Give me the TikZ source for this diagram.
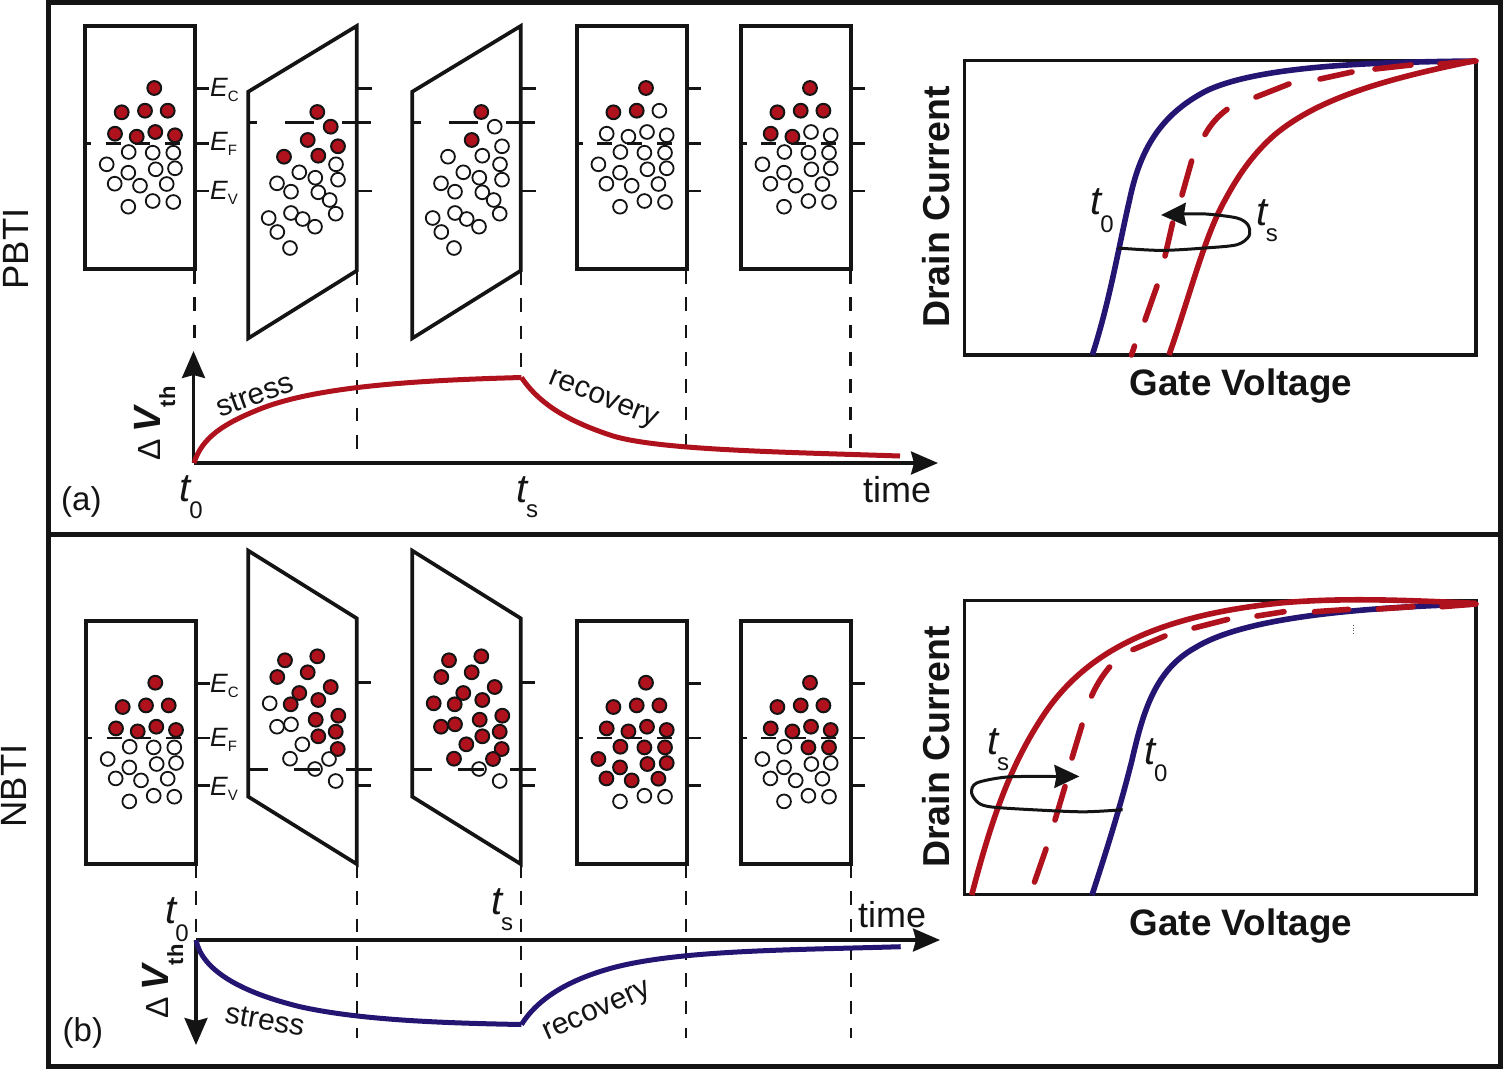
\documentclass[tikz,border=0pt]{standalone}
\usepackage{fontspec}
\setmainfont{Liberation Sans}
\usetikzlibrary{arrows.meta}

\definecolor{ink}{HTML}{141414}
\definecolor{bred}{HTML}{AF121C}
\definecolor{bnavy}{HTML}{241572}

\newcommand{\fsz}[1]{\fontsize{#1}{#1}\selectfont}
\newcommand{\tsub}[2]{{\fsz{40}\itshape t}\hspace{-1.5pt}\raisebox{#2pt}{\fsz{24}#1}}
\newcommand{\esub}[1]{{\fsz{26.5}\itshape E}\raisebox{-5pt}{\fsz{15}#1}}

\tikzset{
	frame/.style={draw=ink,line width=3.7pt,line join=miter},
	level/.style={draw=ink,line width=2.8pt},
	guide/.style={draw=ink,line width=2.7pt,dash pattern=on 13.7pt off 13.6pt},
	full/.style={draw=ink,fill=bred,line width=2pt},
	hole/.style={draw=ink,line width=1.8pt},
	axis/.style={draw=ink,line width=3.2pt,-{Stealth[length=27pt,width=23pt,inset=3pt]}},
	curve/.style={line width=5pt,line join=round},
	tcurve/.style={line width=5.6pt,line join=round},
	loopline/.style={draw=ink,line width=3pt,line join=round},
	lab/.style={inner sep=0pt,anchor=base west,text=ink},
	mid/.style={inner sep=0pt,text=ink}
}

% flat band box: left, top, number of filled states
\newcommand{\flatband}[3]{
	\begin{scope}[shift={(#1,#2)}]
		\draw[frame] (0,0) rectangle (110,243);
		\draw[level] (110,62.7)--(124,62.7);
		\draw[level] (110,165)--(124,165);
		\draw[level,dash pattern=on 15pt off 14.7pt,dash phase=9pt] (0,117.3)--(124,117.3);
		\foreach \i/\x/\y in {1/69.3/62,2/36.7/86.3,3/60/84.7,4/82.7/84.7,5/30/107.7,6/51.7/110.7,7/70.3/106,8/90/109.3,
			9/67.7/126.7,10/88.3/126.7,11/43.7/126,12/21.7/138.3,13/70.7/143.3,14/90/142.3,15/43.3/146.7,
			16/29.7/157.7,17/55/159.7,18/81.7/158,19/43.3/180.7,20/67.7/175,21/88.3/176}{
			\ifnum\i>#3
				\draw[hole] (\x,\y) circle [radius=6.9pt];
			\else
				\draw[full] (\x,\y) circle [radius=6.9pt];
			\fi
		}
	\end{scope}
}
% band bent one way (a): shift, number of filled states
\newcommand{\upband}[2]{
	\begin{scope}[shift={(#1,0)}]
		\draw[frame] (248.3,91.7)--(356.7,26)--(356.7,270.7)--(248.3,338.3)--cycle;
		\draw[level] (356.7,88.7)--(372,88.7);
		\draw[level] (356.7,191)--(372,191);
		\draw[level,dash pattern=on 29pt off 28pt,dash phase=20pt] (248.3,122.7)--(372,122.7);
		\foreach \i/\x/\y in {1/317.3/112,2/307.7/140,3/330.7/126.7,4/338/146.3,5/284/156.7,6/318.3/155.7,7/336/164.3,
			8/299.3/172.3,9/338/179.7,10/315.3/177.7,11/277/183.3,12/291/191.7,13/318.3/192.3,14/329.7/200,
			15/268.7/218,16/291/213,17/302.7/219,18/315/226.7,19/335.7/213.7,20/277.3/232,21/290/248}{
			\ifnum\i>#2
				\draw[hole] (\x,\y) circle [radius=6.9pt];
			\else
				\draw[full] (\x,\y) circle [radius=6.9pt];
			\fi
		}
	\end{scope}
}
% band bent the other way (b)
\newcommand{\downband}[2]{
	\begin{scope}[shift={(#1,0)}]
		\draw[frame] (248.3,550.7)--(356.7,618.3)--(356.7,864)--(248.3,796.7)--cycle;
		\draw[level] (356.7,682.7)--(371,682.7);
		\draw[level] (356.7,785.3)--(371,785.3);
		\draw[level,dash pattern=on 26pt off 26pt,dash phase=6pt] (248.3,769.3)--(372,769.3);
		\foreach \i/\x/\y in {1/285/660.3,2/317.3/656.3,3/277.3/677,4/307.7/672.3,5/330.7/687,6/299.3/693,7/290.7/704.3,
			8/318.3/700,9/338.3/715.7,10/315.7/719.7,11/335.7/731.7,12/318.3/736.3,13/337.7/749,
			14/269.7/703.3,15/277/726.7,16/291/724.3,17/302.3/744.3,18/290/758.7,19/329/759,20/315/769,21/335.7/781}{
			\ifnum\i>#2
				\draw[hole] (\x,\y) circle [radius=6.9pt];
			\else
				\draw[full] (\x,\y) circle [radius=6.9pt];
			\fi
		}
	\end{scope}
}

\begin{document}
\begin{tikzpicture}[x=1pt,y=-1pt]
	\useasboundingbox (0,0) rectangle (1503,1069);

	% outer panels
	\draw[draw=ink,line width=5pt] (48.5,2.5) rectangle (1500.5,534.5);
	\draw[draw=ink,line width=5pt] (48.5,534.5) rectangle (1500.5,1066);
	\node[mid,rotate=90] (PBTI) at (16,249) {\fsz{36.5}PBTI};
	\node[mid,rotate=90] (NBTI) at (14,786) {\fsz{36.5}NBTI};
	\node[lab] (panelA) at (61,510) {\fsz{33}(a)};
	\node[lab] (panelB) at (62.5,1041.5) {\fsz{33}(b)};

	% guides down to the time axes
	\foreach \x/\ya/\yb in {194.5/270/350,357/271/450,521/271/378,686/270/450,850.5/270/450,
		196/864/940,357/864/1038,521/864/1025,686/864/1038,851/864/1038}{
		\draw[guide] (\x,\ya)--(\x,\yb);
	}

	% band pictures
	\flatband{85}{26}{8}
	\upband{0}{6}
	\upband{164}{2}
	\flatband{576.7}{26}{3}
	\flatband{740.7}{26}{6}
	\flatband{86}{620.7}{8}
	\downband{0}{13}
	\downband{164}{19}
	\flatband{576.7}{620.7}{18}
	\flatband{740.7}{620.7}{10}

	\node[lab] (EcA) at (210,96.7) {\esub{C}};
	\node[lab] (EfA) at (210,150.7) {\esub{F}};
	\node[lab] (EvA) at (210,199.3) {\esub{V}};
	\node[lab] (EcB) at (210,692.3) {\esub{C}};
	\node[lab] (EfB) at (210,746) {\esub{F}};
	\node[lab] (EvB) at (210,795) {\esub{V}};

	% time plot (a)
	\coordinate (OA) at (193.5,463);
	\coordinate (YA) at (193.5,351);
	\coordinate (XA) at (938,463);
	\draw[axis] (OA)--(YA);
	\draw[axis] (OA)--(XA);
	\draw[curve,bred] (194,463) .. controls (202,437) and (225,423) .. (260,409) .. controls (320,385) and (430,380) .. (521.5,377.5);
	\draw[curve,bred] (521.5,377.5) .. controls (540,405) and (570,422) .. (613,436) .. controls (660,450) and (780,452) .. (900,456);
	\node[lab,rotate=90] (dVa) at (160,461) {\fsz{32}Δ\hspace{7pt}{\fsz{38}\bfseries\itshape V}\raisebox{-15pt}{\fsz{22}\bfseries th}};
	\node[mid,rotate=20] (stressA) at (255,395) {\fsz{30}stress};
	\node[mid,rotate=-22] (recA) at (602.7,400.7) {\fsz{30}recovery};
	\node[lab] (t0A) at (179.5,501.7) {\tsub{0}{-16.5}};
	\node[lab] (tsA) at (516.2,502) {\tsub{s}{-15}};
	\node[lab] (timeA) at (863,502) {\fsz{36}time};

	% time plot (b)
	\coordinate (OB) at (196,940);
	\coordinate (YB) at (196,1045);
	\coordinate (XB) at (940,940);
	\draw[axis] (OB)--(YB);
	\draw[axis] (OB)--(XB);
	\draw[curve,bnavy] (196,940) .. controls (202,970) and (240,992) .. (300,1006.7) .. controls (360,1020) and (440,1023) .. (521.5,1024.5);
	\draw[curve,bnavy] (521.5,1024.5) .. controls (540,995) and (575,978) .. (613,967.7) .. controls (680,950) and (790,950) .. (900.7,946.7);
	\node[lab,rotate=90] (dVb) at (168,1019) {\fsz{32}Δ\hspace{7pt}{\fsz{38}\bfseries\itshape V}\raisebox{-15pt}{\fsz{22}\bfseries th}};
	\node[mid,rotate=-10] (stressB) at (265,1020) {\fsz{30}stress};
	\node[mid,rotate=24] (recB) at (598,1013) {\fsz{30}recovery};
	\node[lab] (t0B) at (165.5,923) {\tsub{0}{-18}};
	\node[lab] (tsB) at (491.2,914) {\tsub{s}{-16}};
	\node[lab] (timeB) at (858,927) {\fsz{36}time};

	% transfer curves (a)
	\draw[draw=ink,line width=3.8pt] (964.5,60.5) rectangle (1476,355);
	\draw[tcurve,bnavy] (1092.3,355) .. controls (1110,300) and (1118,250) .. (1129.6,199.6) .. controls (1140,150) and (1160,115) .. (1206,91) .. controls (1260,65) and (1380,62) .. (1476,61);
	\draw[tcurve,bred] (1169,355) .. controls (1190,295) and (1205,235) .. (1225,200) .. controls (1240,172) and (1255,152) .. (1275,134.5) .. controls (1320,97) and (1390,78) .. (1476,60.5);
	\draw[tcurve,bred,line cap=round] (1131.4,355)--(1134.5,346) (1145,320)--(1157,286) (1165,256)--(1172.6,223) (1182,195)--(1191.6,161)
		(1205,134.5) .. controls (1211,124) and (1218,116) .. (1227,109.4)
		(1256,97)--(1289,84) (1320,79)--(1352,72) (1375,69)--(1411,65) (1440,64)--(1476,61);
	\draw[loopline] plot[smooth] coordinates {(1118,248)(1161,250.4)(1205,248)(1237,244.7)(1249,236)(1248,225)(1237,218)(1206,214)(1180,214)};
	\coordinate (LoopA) at (1180,214.5);
	\coordinate (TipA) at (1161,215);
	\draw[loopline,-{Stealth[length=25pt,width=23pt,inset=2pt]}] (LoopA)--(TipA);
	\node[lab] (curve0A) at (1090.5,214.6) {\tsub{0}{-17.5}};
	\node[lab] (curvesA) at (1256,225.3) {\tsub{s}{-16}};
	\node[lab,rotate=90,anchor=base] (idA) at (949.4,207) {\fsz{37.5}\bfseries Drain Current};
	\node[lab,anchor=base] (vgA) at (1241,395) {\fsz{36.8}\bfseries Gate Voltage};

	% transfer curves (b)
	\draw[draw=ink,line width=3.8pt] (964.5,600.5) rectangle (1476,894.5);
	\draw[tcurve,bnavy] (1092,895) .. controls (1110,840) and (1122,800) .. (1132,760) .. controls (1143,712) and (1155,670) .. (1195,647.8) .. controls (1240,620) and (1340,608) .. (1476,604);
	\draw[tcurve,bred] (971.7,895) .. controls (990,825) and (1008,770) .. (1041,719) .. controls (1085,650) and (1160,615) .. (1283,602.7) .. controls (1350,597) and (1420,601) .. (1476,603.3);
	\draw[tcurve,bred,line cap=round] (1034.5,882)--(1046,849) (1055,820)--(1065,786.5) (1072,758)--(1082,725)
		(1091.6,696) .. controls (1096,686) and (1102,676) .. (1109.6,667)
		(1133,649.6)--(1165,636) (1194,628)--(1227.6,619.4) (1257,616)--(1284,611.7) (1314.5,611.7)--(1348.5,609.4) (1378.4,609)--(1413,606.7) (1442,606.7)--(1476,604);
	\draw[loopline] plot[smooth] coordinates {(1122.6,809.7)(1083.6,811.8)(1034,809.8)(992,807)(978.6,803)(971.6,793)(976.6,783)(1007,777)(1053,776.4)};
	\coordinate (LoopB) at (1053,776.4);
	\coordinate (TipB) at (1079.4,776.4);
	\draw[loopline,-{Stealth[length=25pt,width=23pt,inset=2pt]}] (LoopB)--(TipB);
	\node[lab] (curve0B) at (1144.3,764.7) {\tsub{0}{-17}};
	\node[lab] (curvesB) at (987.2,754.6) {\tsub{s}{-16}};
	\node[lab,rotate=90,anchor=base] (idB) at (949.4,747) {\fsz{37.5}\bfseries Drain Current};
	\node[lab,anchor=base] (vgB) at (1241,935) {\fsz{36.8}\bfseries Gate Voltage};
	\draw[ink!70,line width=.7pt,dotted] (1353,625)--(1353,635);
\end{tikzpicture}
\end{document}
